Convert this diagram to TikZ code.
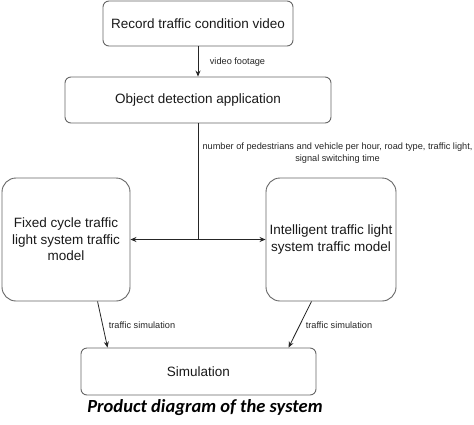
\documentclass[tikz,border=0pt]{standalone}
\usepackage{fontspec}
\setmainfont{Liberation Sans}
\newfontfamily\capfont{Carlito}
\usetikzlibrary{arrows.meta,calc}
\begin{document}
\begin{tikzpicture}[x=1pt,y=-1pt,
  box/.style={draw=black!60, line width=0.9pt, rounded corners=#1, inner sep=0pt, align=center, font=\fontsize{13.5}{16.5}\selectfont, text=black!90},
  box/.default=6pt,
  conn/.style={draw=black!85, line width=0.8pt},
  tip/.style={-{Stealth[length=6pt,width=5pt]}},
  lbl/.style={font=\fontsize{9.2}{12}\selectfont, text=black!85, inner sep=0pt, align=center}]
\useasboundingbox (0,0) rectangle (474,424);
\fill[white] (0,0) rectangle (474,424);
\node[box, minimum width=190pt, minimum height=45pt] (rec) at (198,23.5) {Record traffic condition video};
\node[box, minimum width=266pt, minimum height=46pt] (obj) at (198,100) {Object detection application};
\node[box=14pt, minimum width=128pt, minimum height=123pt] (fix) at (66,239.5) {Fixed cycle traffic\\light system traffic\\model};
\node[box=14pt, minimum width=130pt, minimum height=123pt] (itl) at (331,239.5) {Intelligent traffic light\\system traffic model};
\node[box, minimum width=235pt, minimum height=47pt] (sim) at (198.5,371.5) {Simulation};
\coordinate (junc) at (198,240);
\draw[conn, tip] (rec.south) -- (obj.north);
\node[lbl] (vf) at (237.5,62) {video footage};
\draw[conn] (obj.south) -- (junc);
\draw[conn, {Stealth[length=6pt,width=5pt]}-{Stealth[length=6pt,width=5pt]}] (fix.east) -- (itl.west);
\node[lbl] (params) at (337.5,153) {number of pedestrians and vehicle per hour, road type, traffic light,\\signal switching time};
\draw[conn, tip] ($(fix.south west)+(96,0)$) -- ($(sim.north west)+(27,0)$);
\draw[conn, tip] ($(itl.south west)+(46,0)$) -- ($(sim.north west)+(208,0)$);
\node[lbl] (ts1) at (142,325) {traffic simulation};
\node[lbl] (ts2) at (339,325) {traffic simulation};
\node[font=\capfont\bfseries\itshape\fontsize{18.5}{20}\selectfont, inner sep=0pt] (cap) at (205,408) {Product diagram of the system};
\end{tikzpicture}
\end{document}
